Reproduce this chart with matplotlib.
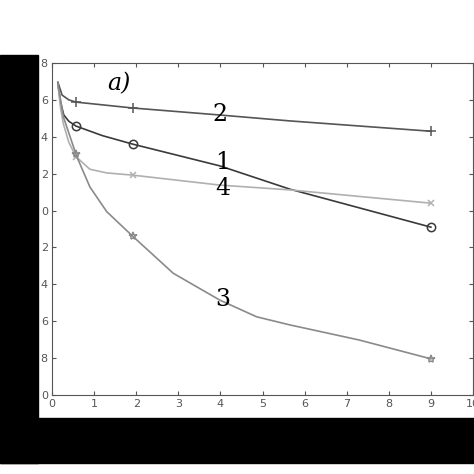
import numpy as np
import matplotlib.pyplot as plt
from matplotlib.patches import Rectangle

# curve data (x in axis units, y in axis units)
x2 = [0.14, 0.24, 0.40, 0.57, 1.92, 3.99, 5.65, 9.0]
y2 = [8.48, 8.13, 8.00, 7.94, 7.78, 7.59, 7.43, 7.15]
x1 = [0.14, 0.20, 0.28, 0.40, 0.57, 1.20, 1.92, 3.99, 5.65, 9.0]
y1 = [8.43, 7.95, 7.59, 7.42, 7.29, 7.03, 6.80, 6.21, 5.58, 4.55]
x4 = [0.14, 0.20, 0.27, 0.40, 0.57, 0.90, 1.30, 1.92, 3.99, 5.65, 9.0]
y4 = [8.43, 7.80, 7.35, 6.85, 6.46, 6.12, 6.02, 5.96, 5.69, 5.56, 5.20]
x3 = [0.14, 0.27, 0.59, 0.90, 1.30, 1.93, 2.88, 3.99, 4.86, 5.65, 7.30, 9.0]
y3 = [8.45, 7.54, 6.46, 5.64, 4.97, 4.29, 3.30, 2.57, 2.12, 1.90, 1.49, 0.98]
mark_x = [0.57, 1.92, 9.0]

yticks = list(range(10))
ytick_labels = ['0', '8', '6', '4', '2', '0', '2', '4', '6', '8']
xticks = list(range(11))

W = H = 474
fig = plt.figure(figsize=(4.74, 4.74), dpi=100)
ax = fig.add_axes([52 / W, (H - 395) / H, 421 / W, 332 / H])

series = [
    (x2, y2, '#555555', '+', 7),
    (x1, y1, '#3a3a3a', 'o', 6),
    (x4, y4, '#b0b0b0', 'x', 5),
    (x3, y3, '#8a8a8a', '*', 6),
]
for xs, ys, c, m, ms in series:
    ax.plot(xs, ys, color=c, lw=1.2)
    my = np.interp(mark_x, xs, ys)
    ax.plot(mark_x, my, ls='none', marker=m, ms=ms, color=c, mfc='none', mew=1.1)

ax.text(4.0, 7.6, '2', fontsize=17, family='DejaVu Serif', ha='center', va='center')
ax.text(4.05, 6.3, '1', fontsize=17, family='DejaVu Serif', ha='center', va='center')
ax.text(4.05, 5.6, '4', fontsize=17, family='DejaVu Serif', ha='center', va='center')
ax.text(4.05, 2.6, '3', fontsize=17, family='DejaVu Serif', ha='center', va='center')
ax.text(1.6, 8.45, 'a)', fontsize=17, family='DejaVu Serif', style='italic', ha='center', va='center')

ax.set_xlim(0, 10)
ax.set_ylim(0, 9)
ax.set_xticks(xticks)
ax.set_yticks(yticks)
ax.set_yticklabels(ytick_labels)
ax.tick_params(direction='in', top=True, right=True, colors='#555555', labelsize=8,
               labelcolor='#555555', length=3, pad=3)
for s in ax.spines.values():
    s.set_color('#555555')

# black frame around the pasted chart
fig.patches.append(Rectangle((0, (H - 463) / H), 38 / W, 408 / H, transform=fig.transFigure,
                             color='black', zorder=10))
fig.patches.append(Rectangle((0, (H - 463) / H), 1, 45 / H, transform=fig.transFigure,
                             color='black', zorder=10))

fig.savefig('out.png', dpi=100)
